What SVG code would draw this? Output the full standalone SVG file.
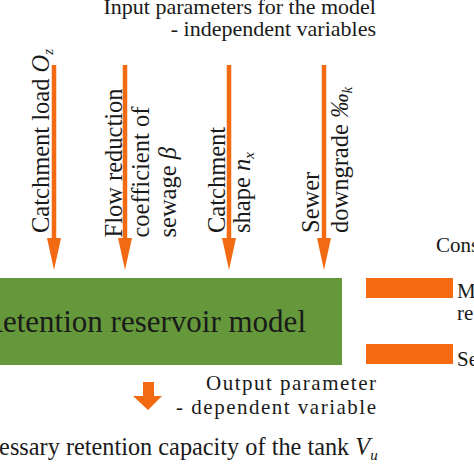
<svg xmlns="http://www.w3.org/2000/svg" width="474" height="474" viewBox="0 0 474 474">
<style>
text{font-family:'Liberation Serif','Times New Roman',serif;fill:#1a1a1a}
.lbl{font-size:24.5px}
.top{font-size:22px}
.out{font-size:21px;letter-spacing:1.5px}
.side{font-size:21px}
.it{font-style:italic}
.arrow{fill:#f26a12}
.shaft{stroke:#f26a12;stroke-width:4.5}
</style>
<rect width="474" height="474" fill="#ffffff"/>
<g id="title">
<text class="top" x="376" y="14" text-anchor="end">Input parameters for the model</text>
<text class="top" x="376" y="36" text-anchor="end">- independent variables</text>
</g>
<g id="connectors">
<line class="shaft" x1="54" y1="65" x2="54" y2="240"/>
<polygon class="arrow" points="47,238 61,238 54,270"/>
<line class="shaft" x1="125" y1="65" x2="125" y2="240"/>
<polygon class="arrow" points="118,238 132,238 125,270"/>
<line class="shaft" x1="229" y1="65" x2="229" y2="240"/>
<polygon class="arrow" points="222,238 236,238 229,270"/>
<line class="shaft" x1="324" y1="65" x2="324" y2="240"/>
<polygon class="arrow" points="317,238 331,238 324,270"/>
<polygon id="output-arrow" class="arrow" points="143,382 154,382 154,396 162,396 148,410 133,396 143,396"/>
</g>
<g id="label-catchment-load" transform="translate(49,233) rotate(-90)">
<text class="lbl" x="0" y="0">Catchment load <tspan class="it">O</tspan><tspan class="it" font-size="15" dy="4">z</tspan></text>
</g>
<g id="label-flow-reduction">
<text class="lbl" transform="translate(122,237.5) rotate(-90)">Flow reduction</text>
<text class="lbl" transform="translate(149,237.5) rotate(-90)">coefficient of</text>
<text class="lbl" transform="translate(176,237.5) rotate(-90)">sewage <tspan class="it">β</tspan></text>
</g>
<g id="label-catchment-shape">
<text class="lbl" transform="translate(225,233) rotate(-90)">Catchment</text>
<text class="lbl" transform="translate(250,233) rotate(-90)">shape <tspan class="it">n</tspan><tspan class="it" font-size="15" dy="4">x</tspan></text>
</g>
<g id="label-sewer-downgrade">
<text class="lbl" transform="translate(319,233) rotate(-90)">Sewer</text>
<text class="lbl" transform="translate(348,233) rotate(-90)">downgrade <tspan class="it">‰</tspan><tspan class="it" font-size="15" dy="4">k</tspan></text>
</g>
<g id="model">
<rect x="0" y="278" width="342" height="87" fill="#64983a"/>
<text x="306" y="332" text-anchor="end" font-size="31">Retention reservoir model</text>
</g>
<g id="legend">
<text class="side" x="436" y="252">Cons</text>
<rect x="366" y="278" width="87" height="20" fill="#f66a10"/>
<text class="side" x="457" y="298">M</text>
<text class="side" x="457" y="320">re</text>
<rect x="366" y="344" width="87" height="20" fill="#f66a10"/>
<text class="side" x="457" y="366">Se</text>
</g>
<g id="output">
<text class="out" x="377.5" y="390" text-anchor="end">Output parameter</text>
<text class="out" x="377.5" y="414" text-anchor="end">- dependent variable</text>
<text x="-40" y="455" font-size="24.3">Necessary retention capacity of the tank <tspan class="it">V</tspan><tspan class="it" font-size="15" dy="5">u</tspan></text>
</g>
</svg>
